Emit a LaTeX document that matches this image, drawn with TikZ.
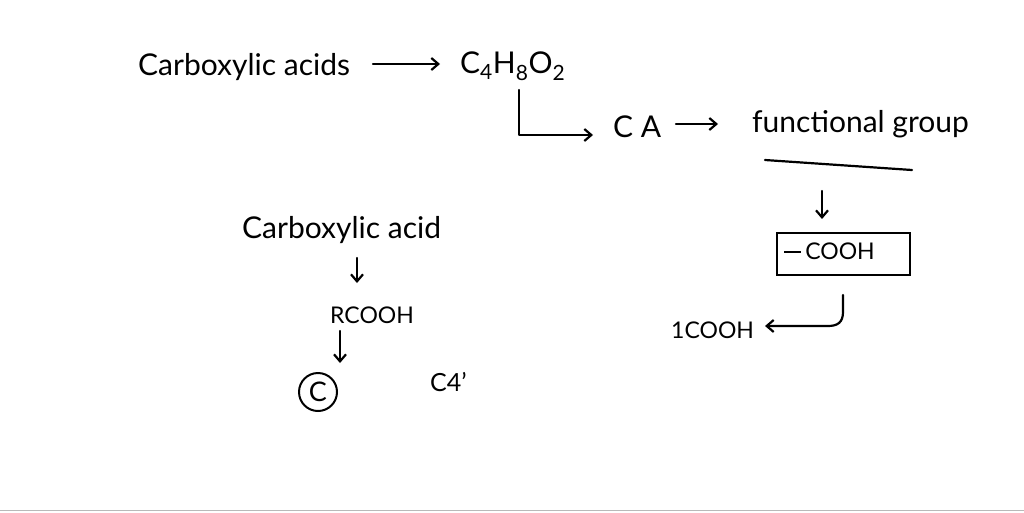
\documentclass[tikz,border=0pt]{standalone}
\usepackage{fontspec}
\setmainfont{Lato}
\usetikzlibrary{arrows.meta}
\begin{document}
\begin{tikzpicture}[x=1pt,y=-1pt,
  lbl/.style={inner sep=0pt, anchor=west, font=\fontsize{30}{34}\selectfont},
  sm/.style={lbl, font=\fontsize{23}{26}\selectfont},
  conn/.style={line width=2.2pt, -{Straight Barb[length=7pt,width=12pt]}, line cap=round, line join=round},
  plain/.style={line width=2.2pt, line cap=round}]
\useasboundingbox (0,0) rectangle (1024,512);
\fill[white] (0,0) rectangle (1024,512);
\draw[line width=1.2pt, gray!55] (0,510.5) -- (1024,510.5);
% top chain
\node[lbl] (ca) at (138,67) {Carboxylic acids};
\node[lbl] (form) at (460,66) {C\textsubscript{4}H\textsubscript{8}O\textsubscript{2}};
\coordinate (a1) at (373,64);
\coordinate (a2) at (440,64);
\draw[conn] (a1) -- (a2);
\node[lbl] (cA) at (613,127) {C A};
\node[lbl] (fg) at (752,124) {functional group};
\coordinate (l1) at (519,90);
\coordinate (l2) at (519,135);
\coordinate (l3) at (593,135);
\draw[conn] (l1) -- (l2) -- (l3);
\coordinate (b1) at (676,124);
\coordinate (b2) at (718,124);
\draw[conn] (b1) -- (b2);
\coordinate (u1) at (765,160);
\coordinate (u2) at (912,170);
\draw[plain] (u1) -- (u2);
% box
\node[draw, line width=2pt, minimum width=133pt, minimum height=42pt, inner sep=0pt] (box) at (843.5,254) {};
\node[sm] (cooh) at (784,251) {\rule[0.28em]{0.75em}{1.6pt}\,COOH};
\coordinate (d1) at (822,191);
\coordinate (d2) at (822,219);
\draw[conn] (d1) -- (d2);
\node[sm] (one) at (671,330) {1COOH};
\coordinate (c1) at (843,295);
\coordinate (c2) at (765,326);
\draw[conn] (c1) -- (843,312) .. controls (843,322) and (838,326) .. (828,326) -- (c2);
% left column
\node[lbl] (ca2) at (242,230) {Carboxylic acid};
\node[sm] (rc) at (330,315) {RCOOH};
\draw[conn] (357,258) -- (357,283);
\draw[conn] (340,331) -- (340,363);
\node[draw, circle, line width=2pt, minimum size=38pt, inner sep=0pt, font=\fontsize{27}{28}\selectfont] (cc) at (318,392) {C};
\node[sm, font=\fontsize{25}{26}\selectfont] (c4) at (430,382) {C4'};
\end{tikzpicture}
\end{document}
